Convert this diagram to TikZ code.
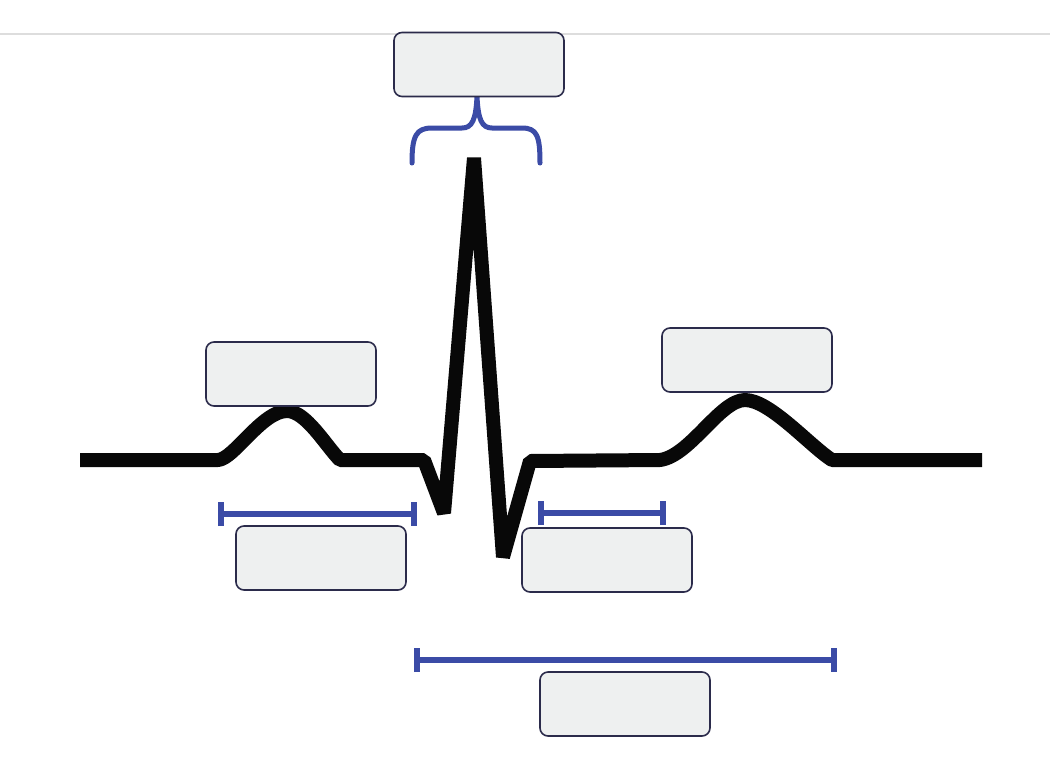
\documentclass[tikz,border=0pt]{standalone}
\usetikzlibrary{arrows.meta}
\definecolor{boxfill}{HTML}{EEF0F0}
\definecolor{boxline}{HTML}{2B2B4B}
\definecolor{barblue}{HTML}{3B4BA6}
\definecolor{rule}{HTML}{DDDDDD}
\definecolor{trace}{HTML}{080808}
\tikzset{
  labelbox/.style={draw=boxline, line width=1.6pt, fill=boxfill, rounded corners=8pt,
    minimum width=170pt, minimum height=64pt, inner sep=0pt},
  interval/.style={draw=barblue, line width=5.5pt, {Bar[width=24pt,line width=6pt]}-{Bar[width=24pt,line width=6pt]}},
  bracestyle/.style={draw=barblue, line width=5pt, line cap=round},
  ecg/.style={draw=trace, line width=14pt, line join=bevel}
}
\begin{document}
\begin{tikzpicture}[x=1pt,y=-1pt]
\useasboundingbox (0,0) rectangle (1050,772);
\fill[white] (0,0) rectangle (1050,772);
% top rule
\draw[rule, line width=1.5pt] (0,34) -- (1050,34);
% ECG trace
\draw[ecg] (80,460) -- (218,460)
  .. controls (234,459) and (262,411) .. (287,411)
  .. controls (306,411) and (326,446) .. (340,460)
  -- (424,460) -- (444,513) -- (474,158) -- (503,557) -- (530,461) -- (660,460)
  .. controls (690,456) and (720,400) .. (745,400)
  .. controls (770,400) and (810,446) .. (832,460)
  -- (982,460);
% brace over QRS
\coordinate (bl) at (412,163);
\coordinate (bt) at (477,96);
\coordinate (br) at (540,163);
\draw[bracestyle] (bl) .. controls (412,136) and (416,128) .. (432,128) -- (462,128)
  .. controls (472,128) and (476,120) .. (bt)
  .. controls (478,120) and (482,128) .. (492,128) -- (522,128)
  .. controls (537,128) and (540,136) .. (br);
% interval bars
\coordinate (pr1) at (218,514); \coordinate (pr2) at (417,514);
\coordinate (st1) at (538,513); \coordinate (st2) at (666,513);
\coordinate (qt1) at (414,660); \coordinate (qt2) at (837,660);
\draw[interval] (pr1) -- (pr2);
\draw[interval] (st1) -- (st2);
\draw[interval] (qt1) -- (qt2);
% label boxes
\node[labelbox] (qrs) at (479,64.5) {};
\node[labelbox] (pw) at (291,374) {};
\node[labelbox] (tw) at (747,360) {};
\node[labelbox] (pr) at (321,558) {};
\node[labelbox] (st) at (607,560) {};
\node[labelbox] (qt) at (625,704) {};
\end{tikzpicture}
\end{document}
